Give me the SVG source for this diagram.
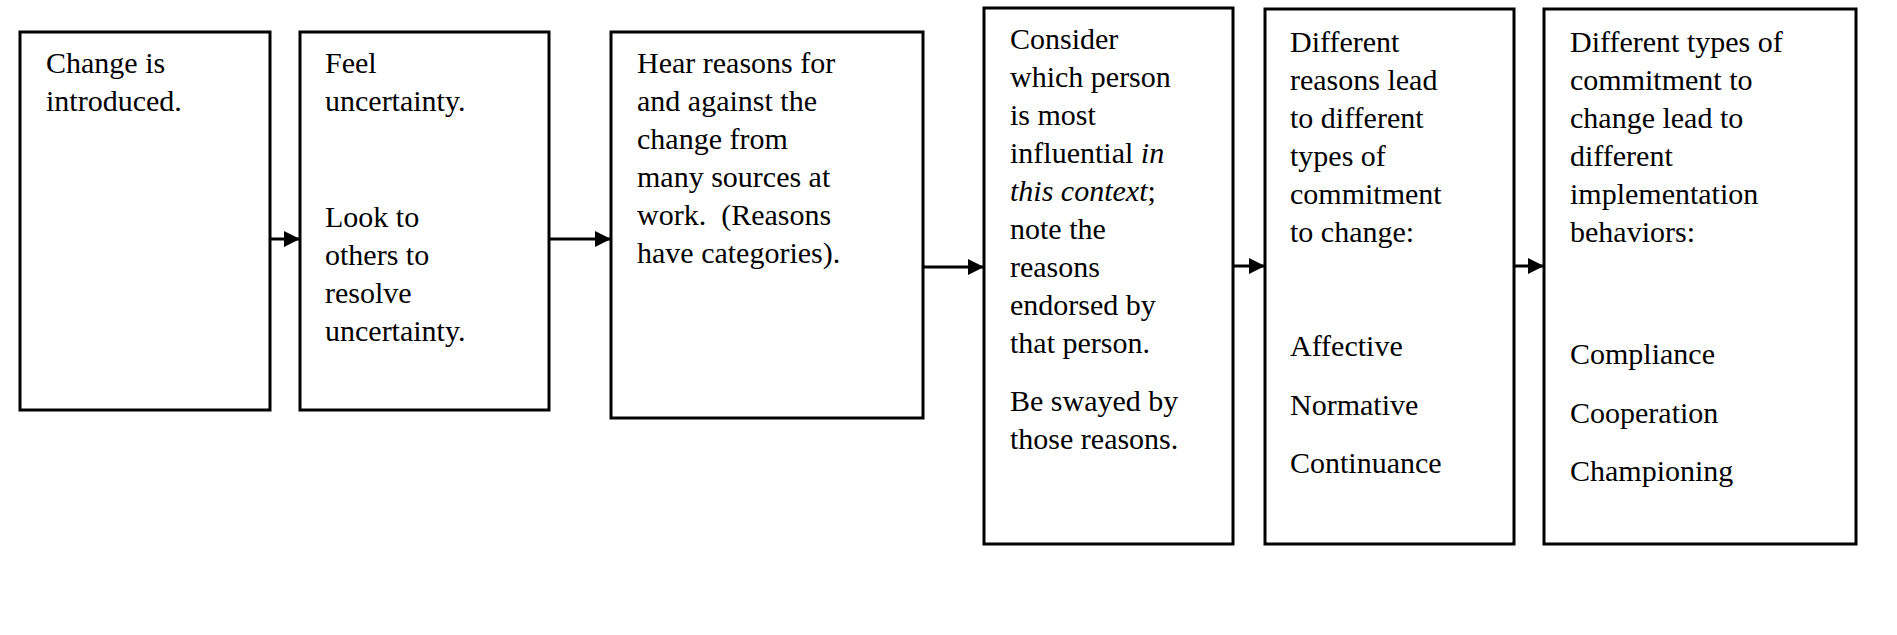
<svg xmlns="http://www.w3.org/2000/svg" width="1897" height="635" viewBox="0 0 1897 635">
<style>
rect{fill:#fff;stroke:#000;stroke-width:3}
text{font-family:"Liberation Serif","Times New Roman",serif;font-size:30px;fill:#000}
.c line{stroke:#000;stroke-width:3}
</style>
<defs><marker id="a" markerWidth="16" markerHeight="16" refX="16" refY="8" orient="auto" markerUnits="userSpaceOnUse" viewBox="0 0 16 16"><path d="M0,0L16,8L0,16z"/></marker></defs>
<rect width="1897" height="635" style="stroke:none"/>
<g class="c">
<line x1="270" y1="239" x2="300" y2="239" marker-end="url(#a)"/>
<line x1="549" y1="239" x2="611" y2="239" marker-end="url(#a)"/>
<line x1="923" y1="267" x2="984" y2="267" marker-end="url(#a)"/>
<line x1="1233" y1="266" x2="1265" y2="266" marker-end="url(#a)"/>
<line x1="1514" y1="266" x2="1544" y2="266" marker-end="url(#a)"/>
</g>
<g id="n1"><rect x="20" y="32" width="250" height="378"/>
<text x="46" y="73">Change is</text><text x="46" y="111">introduced.</text></g>
<g id="n2"><rect x="300" y="32" width="249" height="378"/>
<text x="325" y="73">Feel</text><text x="325" y="111">uncertainty.</text>
<text x="325" y="227">Look to</text><text x="325" y="265">others to</text><text x="325" y="303">resolve</text><text x="325" y="341">uncertainty.</text></g>
<g id="n3"><rect x="611" y="32" width="312" height="386"/>
<text x="637" y="73">Hear reasons for</text><text x="637" y="111">and against the</text><text x="637" y="149">change from</text><text x="637" y="187">many sources at</text><text x="637" y="225">work.&#160; (Reasons</text><text x="637" y="263">have categories).</text></g>
<g id="n4"><rect x="984" y="8" width="249" height="536"/>
<text x="1010" y="49">Consider</text><text x="1010" y="87">which person</text><text x="1010" y="125">is most</text><text x="1010" y="163">influential <tspan font-style="italic">in</tspan></text><text x="1010" y="201"><tspan font-style="italic">this context</tspan>;</text><text x="1010" y="239">note the</text><text x="1010" y="277">reasons</text><text x="1010" y="315">endorsed by</text><text x="1010" y="353">that person.</text>
<text x="1010" y="411">Be swayed by</text><text x="1010" y="449">those reasons.</text></g>
<g id="n5"><rect x="1265" y="9" width="249" height="535"/>
<text x="1290" y="52">Different</text><text x="1290" y="90">reasons lead</text><text x="1290" y="128">to different</text><text x="1290" y="166">types of</text><text x="1290" y="204">commitment</text><text x="1290" y="242">to change:</text>
<text x="1290" y="356">Affective</text><text x="1290" y="415">Normative</text><text x="1290" y="473">Continuance</text></g>
<g id="n6"><rect x="1544" y="9" width="312" height="535"/>
<text x="1570" y="52">Different types of</text><text x="1570" y="90">commitment to</text><text x="1570" y="128">change lead to</text><text x="1570" y="166">different</text><text x="1570" y="204">implementation</text><text x="1570" y="242">behaviors:</text>
<text x="1570" y="364">Compliance</text><text x="1570" y="423">Cooperation</text><text x="1570" y="481">Championing</text></g>
</svg>
